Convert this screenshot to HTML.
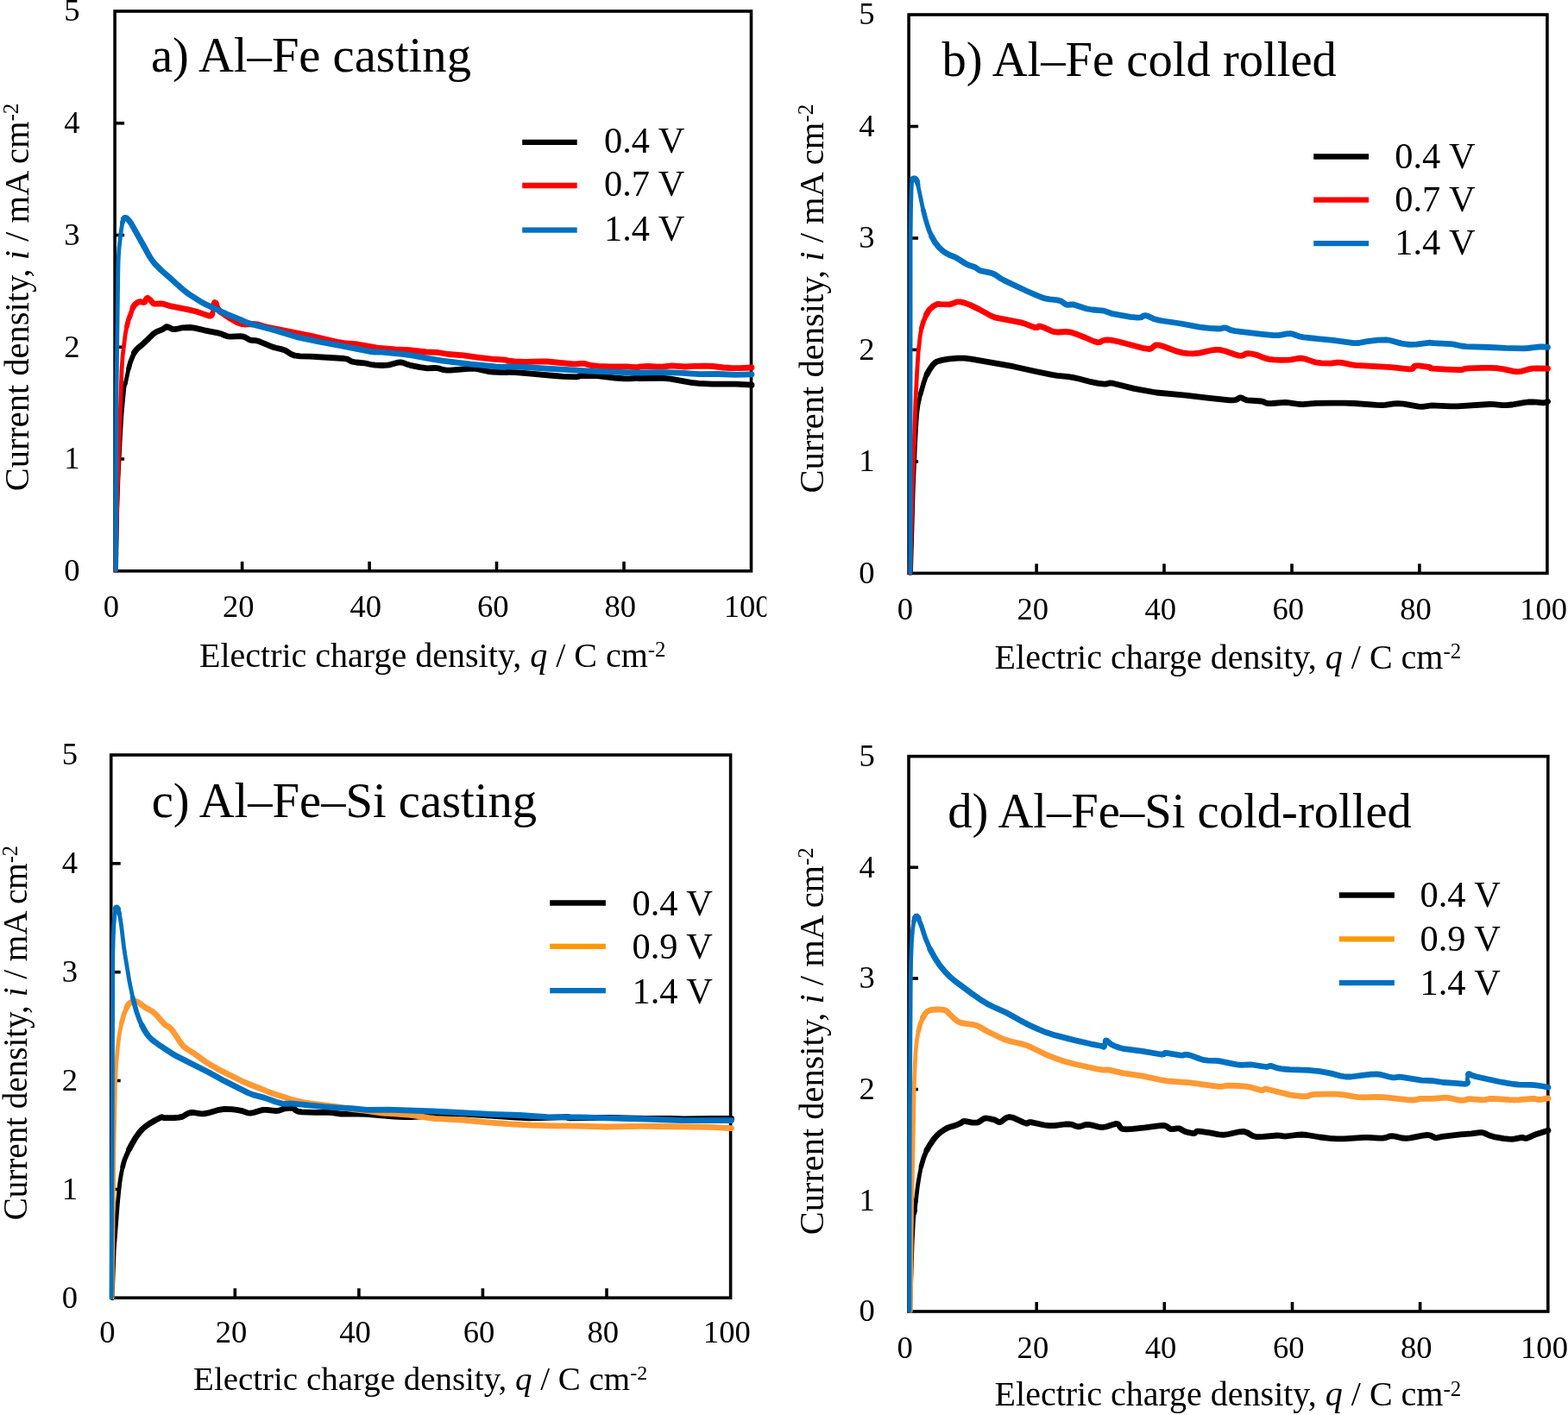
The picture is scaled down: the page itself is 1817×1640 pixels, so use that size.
<!DOCTYPE html>
<html><head><meta charset="utf-8"><title>Current density vs electric charge density</title>
<style>html,body{margin:0;padding:0;background:#fff;} svg{display:block;}</style></head>
<body>
<svg xmlns="http://www.w3.org/2000/svg" width="1817" height="1640" viewBox="0 0 1817 1640" font-family="'Liberation Serif','Times New Roman',serif">
<defs><clipPath id="clipA"><rect x="0" y="0" width="888.2" height="1640"/></clipPath></defs>
<g clip-path="url(#clipA)"><rect x="133.1" y="13.0" width="737.4" height="648.8" fill="none" stroke="#000" stroke-width="3.6"/><line x1="133.1" y1="532.0" x2="144.1" y2="532.0" stroke="#000" stroke-width="3.6"/><line x1="280.6" y1="661.8" x2="280.6" y2="650.8" stroke="#000" stroke-width="3.6"/><line x1="133.1" y1="402.3" x2="144.1" y2="402.3" stroke="#000" stroke-width="3.6"/><line x1="428.1" y1="661.8" x2="428.1" y2="650.8" stroke="#000" stroke-width="3.6"/><line x1="133.1" y1="272.5" x2="144.1" y2="272.5" stroke="#000" stroke-width="3.6"/><line x1="575.5" y1="661.8" x2="575.5" y2="650.8" stroke="#000" stroke-width="3.6"/><line x1="133.1" y1="142.8" x2="144.1" y2="142.8" stroke="#000" stroke-width="3.6"/><line x1="723.0" y1="661.8" x2="723.0" y2="650.8" stroke="#000" stroke-width="3.6"/><path d="M134.5,661.5 135.7,591.2 136.9,556.2 139.7,500.6 141.0,480.0 143.8,450.0 144.3,447.1 144.8,446.1 145.4,444.2" fill="none" stroke="#000000" stroke-width="4.8" stroke-linejoin="round" stroke-linecap="round"/><path d="M145.4,444.2 149.1,426.9" fill="none" stroke="#000000" stroke-width="4.8" stroke-linejoin="round" stroke-linecap="round"/><path d="M149.1,426.9 151.0,419.8 155.5,408.8" fill="none" stroke="#000000" stroke-width="5.7" stroke-linejoin="round" stroke-linecap="round"/><path d="M155.5,408.8 157.3,406.2 159.6,403.7 165.2,399.1 178.1,386.6 181.8,384.4 188.7,381.6 192.4,378.9 193.5,378.7 194.4,378.8 199.8,381.3 202.0,381.7 205.3,381.2 211.4,379.8 220.1,379.5 225.5,380.1 236.9,382.8 253.6,386.2 256.8,387.1 261.3,389.0 264.2,389.9 268.2,390.2 278.1,389.7 282.1,390.2 284.1,390.9 288.3,393.4 290.0,394.1 292.0,394.5 296.0,394.6 298.8,395.2 316.4,402.3 319.8,403.3 326.8,404.9 329.6,405.8 332.2,407.1 337.9,410.8 341.9,412.2 347.7,412.8 359.4,413.2 398.6,415.5 402.9,416.4 406.9,418.7 408.9,419.4 412.8,420.0 422.1,420.8 429.9,422.5 434.8,423.2 443.0,423.5 449.4,423.2 452.5,422.6 459.8,420.4 463.8,419.8 466.9,420.3 472.8,422.6 475.2,423.3 486.7,425.7 495.1,426.8 503.2,426.5 506.0,426.6 509.2,427.2 514.2,428.7 517.5,429.2 522.1,429.1 542.7,427.3 549.1,427.2 554.2,427.9 565.6,430.5 571.0,431.1 582.0,431.6 587.1,431.7 588.2,431.3 590.0,431.3 597.4,431.7 612.6,432.8 642.2,435.5 652.7,436.3 667.5,436.8 669.2,436.7 672.2,435.7 673.7,435.5 684.3,435.4 694.1,435.9 712.5,438.0 723.6,438.9 729.8,438.9 739.7,438.1 740.0,438.5 741.3,438.5 768.7,438.4 777.0,439.2 800.6,443.4 809.8,444.3 825.0,445.1 852.7,445.2 871.0,446.2" fill="none" stroke="#000000" stroke-width="6.8" stroke-linejoin="round" stroke-linecap="round"/><path d="M134.0,661.7 136.1,567.8 141.0,429.7 142.1,412.5 145.1,388.3 146.9,378.5" fill="none" stroke="#FF0000" stroke-width="4.8" stroke-linejoin="round" stroke-linecap="round"/><path d="M146.9,378.5 149.1,369.9 150.6,366.2" fill="none" stroke="#FF0000" stroke-width="5.7" stroke-linejoin="round" stroke-linecap="round"/><path d="M150.6,366.2 154.1,356.3" fill="none" stroke="#FF0000" stroke-width="5.7" stroke-linejoin="round" stroke-linecap="round"/><path d="M154.1,356.3 155.0,354.7 156.6,352.7 159.3,350.6 161.1,349.8 162.2,349.6 166.4,350.5 167.3,350.3 168.0,349.7 169.7,346.6" fill="none" stroke="#FF0000" stroke-width="6.8" stroke-linejoin="round" stroke-linecap="round"/><path d="M169.7,346.6 170.2,345.8 170.8,345.4 171.6,345.6 173.5,347.1 177.4,351.5 178.7,352.0 180.5,352.2 186.2,351.9 189.4,352.2 198.1,354.9 218.3,358.9 225.2,360.5 229.1,361.6 242.3,366.1 243.9,366.1 244.7,365.7 245.8,364.1" fill="none" stroke="#FF0000" stroke-width="6.8" stroke-linejoin="round" stroke-linecap="round"/><path d="M245.8,364.1 246.8,360.8" fill="none" stroke="#FF0000" stroke-width="5.7" stroke-linejoin="round" stroke-linecap="round"/><path d="M246.8,360.8 247.9,352.0" fill="none" stroke="#FF0000" stroke-width="4.8" stroke-linejoin="round" stroke-linecap="round"/><path d="M247.9,352.0 248.7,350.5 249.6,350.7 250.6,352.2" fill="none" stroke="#FF0000" stroke-width="6.8" stroke-linejoin="round" stroke-linecap="round"/><path d="M250.6,352.2 252.2,355.6 253.1,358.7" fill="none" stroke="#FF0000" stroke-width="5.7" stroke-linejoin="round" stroke-linecap="round"/><path d="M253.1,358.7 254.5,360.8 255.9,362.0 266.8,369.3 274.1,373.3 277.0,374.6 279.9,375.6 283.1,376.0 292.8,375.5 298.0,375.8 305.1,378.0 309.3,379.1 359.4,389.0 392.8,396.7 398.8,397.6 414.3,399.0 435.8,402.9 440.0,403.5 457.6,404.8 474.2,405.6 494.0,408.0 506.0,408.3 519.3,410.5 536.9,411.9 554.5,414.3 570.2,416.1 585.3,417.1 586.8,417.4 588.1,418.0 596.1,418.9 608.5,419.5 626.8,418.8 634.0,419.0 664.0,421.9 667.4,421.9 673.4,421.4 676.3,421.4 678.4,421.7 685.6,423.7 693.4,424.4 706.4,424.8 726.5,424.8 739.7,425.8 740.0,425.2 750.4,424.3 767.0,425.2 778.5,423.9 793.9,425.0 804.2,424.3 817.6,424.2 825.8,424.5 838.2,426.0 846.4,426.5 857.8,426.6 871.0,426.0" fill="none" stroke="#FF0000" stroke-width="6.8" stroke-linejoin="round" stroke-linecap="round"/><path d="M134.5,661.0 134.5,561.0 135.0,454.5 136.8,315.0 137.2,300.2 138.0,287.8 140.5,266.3 141.9,257.8" fill="none" stroke="#0070C0" stroke-width="4.8" stroke-linejoin="round" stroke-linecap="round"/><path d="M141.9,257.8 143.4,253.5" fill="none" stroke="#0070C0" stroke-width="5.7" stroke-linejoin="round" stroke-linecap="round"/><path d="M143.4,253.5 144.1,252.7 144.8,252.3 145.6,252.3 146.9,252.9 149.1,255.1 151.9,258.8 166.3,284.5 172.9,296.7 175.7,301.0 179.3,305.6 186.6,313.0 199.3,324.1 203.4,328.0 213.4,336.7 220.0,341.7 231.4,348.9 239.7,353.4 262.4,363.9 276.5,369.6 286.8,374.1 292.7,376.0 310.5,380.6 343.8,390.6 369.2,396.0 395.7,400.9 430.1,407.7 433.3,408.0 438.7,407.8 442.6,408.1 468.0,410.6 477.3,411.9 495.9,415.4 512.5,418.1 545.7,422.2 574.3,424.9 582.2,425.3 588.3,424.9 604.3,425.4 688.6,430.4 732.7,431.9 741.8,432.0 760.0,431.6 771.1,431.7 787.2,432.1 810.3,433.7 832.4,433.5 852.7,434.3 871.0,433.9" fill="none" stroke="#0070C0" stroke-width="6.8" stroke-linejoin="round" stroke-linecap="round"/><text x="92.5" y="673.2" font-size="36.6" text-anchor="end">0</text><text x="92.5" y="543.4" font-size="36.6" text-anchor="end">1</text><text x="92.5" y="413.7" font-size="36.6" text-anchor="end">2</text><text x="92.5" y="283.9" font-size="36.6" text-anchor="end">3</text><text x="92.5" y="154.1" font-size="36.6" text-anchor="end">4</text><text x="92.5" y="24.4" font-size="36.6" text-anchor="end">5</text><text x="128.8" y="715.3" font-size="36.6" text-anchor="middle">0</text><text x="276.3" y="715.3" font-size="36.6" text-anchor="middle">20</text><text x="423.8" y="715.3" font-size="36.6" text-anchor="middle">40</text><text x="571.2" y="715.3" font-size="36.6" text-anchor="middle">60</text><text x="718.7" y="715.3" font-size="36.6" text-anchor="middle">80</text><text x="866.2" y="715.3" font-size="36.6" text-anchor="middle">100</text><text x="175.0" y="82.9" font-size="56.6">a) Al–Fe casting</text><line x1="605.2" y1="164.8" x2="668.7" y2="164.8" stroke="#000000" stroke-width="6.3"/><text x="700.0" y="177.2" font-size="42.4">0.4 V</text><line x1="605.2" y1="215.0" x2="668.7" y2="215.0" stroke="#FF0000" stroke-width="6.3"/><text x="700.0" y="227.4" font-size="42.4">0.7 V</text><line x1="605.2" y1="266.6" x2="668.7" y2="266.6" stroke="#0070C0" stroke-width="6.3"/><text x="700.0" y="279.0" font-size="42.4">1.4 V</text><text x="231.0" y="772.7" font-size="40.0">Electric charge density, <tspan font-style="italic">q</tspan> / C cm<tspan font-size="24.8" dy="-11.8">-2</tspan></text><text transform="translate(33.2,569.3) rotate(-90)" x="0" y="0" font-size="40.45">Current density, <tspan font-style="italic">i</tspan> / mA cm<tspan font-size="25.1" dy="-11.9">-2</tspan></text></g>
<g><rect x="1053.1" y="17.0" width="739.8" height="647.4" fill="none" stroke="#000" stroke-width="3.6"/><line x1="1053.1" y1="534.9" x2="1064.1" y2="534.9" stroke="#000" stroke-width="3.6"/><line x1="1201.1" y1="664.4" x2="1201.1" y2="653.4" stroke="#000" stroke-width="3.6"/><line x1="1053.1" y1="405.4" x2="1064.1" y2="405.4" stroke="#000" stroke-width="3.6"/><line x1="1349.0" y1="664.4" x2="1349.0" y2="653.4" stroke="#000" stroke-width="3.6"/><line x1="1053.1" y1="276.0" x2="1064.1" y2="276.0" stroke="#000" stroke-width="3.6"/><line x1="1497.0" y1="664.4" x2="1497.0" y2="653.4" stroke="#000" stroke-width="3.6"/><line x1="1053.1" y1="146.5" x2="1064.1" y2="146.5" stroke="#000" stroke-width="3.6"/><line x1="1644.9" y1="664.4" x2="1644.9" y2="653.4" stroke="#000" stroke-width="3.6"/><path d="M1055.5,664.0 1058.3,565.0 1060.5,514.8 1061.8,491.6 1062.9,477.6 1063.9,470.1 1065.6,461.8" fill="none" stroke="#000000" stroke-width="4.8" stroke-linejoin="round" stroke-linecap="round"/><path d="M1065.6,461.8 1066.7,456.8" fill="none" stroke="#000000" stroke-width="4.8" stroke-linejoin="round" stroke-linecap="round"/><path d="M1066.7,456.8 1070.3,443.9 1072.4,437.8 1074.0,434.0" fill="none" stroke="#000000" stroke-width="5.7" stroke-linejoin="round" stroke-linecap="round"/><path d="M1074.0,434.0 1077.0,428.6 1080.6,423.4 1083.4,420.5 1085.9,419.0 1091.7,417.4 1098.6,416.2 1110.0,415.2 1117.5,415.1 1125.4,416.1 1174.1,424.7 1200.1,430.5 1219.1,434.4 1225.1,435.3 1238.1,436.7 1244.1,437.6 1250.3,439.0 1264.4,442.7 1272.9,444.4 1280.0,445.2 1282.2,445.0 1285.6,443.9 1289.5,444.2 1314.1,450.4 1339.8,455.0 1373.6,458.1 1399.1,461.2 1424.7,463.8 1428.6,463.9 1431.8,463.5 1433.9,462.6 1435.9,461.2 1437.4,460.8 1439.2,461.2 1442.6,463.1 1445.1,463.9 1461.6,465.0 1464.0,465.6 1467.3,467.2 1470.0,467.6 1474.4,467.5 1485.5,466.6 1489.8,466.5 1494.1,466.8 1505.5,468.5 1509.6,468.7 1525.0,467.4 1541.8,467.1 1558.1,467.1 1568.9,467.5 1595.3,469.4 1601.2,469.6 1605.3,469.4 1615.2,467.8 1619.6,467.6 1626.7,468.2 1643.6,471.1 1648.7,471.4 1658.5,470.0 1664.1,470.1 1680.7,470.8 1688.9,470.8 1726.0,468.5 1731.1,468.6 1740.7,469.6 1745.6,469.7 1752.5,469.0 1766.0,466.6 1770.7,466.0 1776.5,465.8 1788.0,466.8 1791.3,466.3 1793.5,465.4" fill="none" stroke="#000000" stroke-width="6.8" stroke-linejoin="round" stroke-linecap="round"/><path d="M1054.8,664.6 1057.2,569.7 1061.0,464.2 1062.7,430.0 1064.1,408.5 1066.1,390.4 1067.8,380.4" fill="none" stroke="#FF0000" stroke-width="4.8" stroke-linejoin="round" stroke-linecap="round"/><path d="M1067.8,380.4 1070.1,372.6 1073.4,364.8" fill="none" stroke="#FF0000" stroke-width="5.7" stroke-linejoin="round" stroke-linecap="round"/><path d="M1073.4,364.8 1076.1,360.1 1078.6,357.3 1082.1,354.5 1086.6,352.3 1090.0,352.7 1100.1,352.8 1103.1,352.2 1108.8,349.9 1112.6,349.8 1117.4,350.9 1124.1,353.4 1134.9,358.6 1148.0,365.9 1153.6,368.2 1183.6,373.9 1188.1,375.3 1197.1,378.8 1200.1,379.7 1201.7,379.7 1204.0,378.0 1205.6,378.1 1208.7,379.2 1218.0,383.4 1222.1,384.7 1226.2,385.0 1235.5,384.5 1237.6,384.6 1240.5,385.1 1248.3,387.6 1257.1,391.0 1267.3,395.5 1271.6,396.8 1274.2,396.7 1277.9,394.8 1280.0,394.2 1283.3,394.0 1287.1,394.2 1296.3,396.0 1325.6,403.7 1330.9,404.5 1333.0,404.3 1334.1,403.9 1338.1,400.6 1339.1,400.1 1340.2,399.8 1342.3,399.9 1347.7,401.3 1362.6,406.9 1370.1,408.9 1375.8,409.7 1382.4,409.8 1390.1,409.1 1404.7,405.8 1408.9,405.3 1412.1,405.3 1415.0,405.7 1419.2,406.7 1431.5,411.0 1435.6,412.1 1437.9,412.3 1439.2,412.2 1441.1,411.5 1444.1,409.8 1446.0,409.7 1448.8,409.8 1452.8,410.5 1457.0,411.6 1464.3,414.6 1467.6,415.7 1470.8,416.3 1475.6,416.9 1484.1,417.3 1493.2,417.2 1496.5,416.9 1503.5,415.5 1507.5,415.2 1509.5,415.4 1512.4,416.0 1524.0,419.9 1531.4,420.9 1542.7,421.2 1549.3,420.2 1552.6,420.1 1556.2,420.6 1565.6,422.6 1570.9,423.3 1612.1,425.7 1632.9,427.8 1635.1,427.8 1636.8,427.4 1637.7,426.7 1638.6,425.0" fill="none" stroke="#FF0000" stroke-width="6.8" stroke-linejoin="round" stroke-linecap="round"/><path d="M1638.6,425.0 1639.2,424.3 1640.6,423.9 1644.3,423.9 1657.1,425.6 1658.0,426.1 1657.4,426.6 1660.0,427.1 1676.0,428.1 1690.0,428.7 1694.7,428.5 1696.8,427.5 1697.9,427.3 1701.9,426.9 1718.0,426.3 1728.5,426.3 1733.9,426.7 1742.6,427.9 1753.9,430.3 1758.1,430.8 1760.1,430.7 1763.2,430.3 1771.4,427.9 1775.6,427.1 1782.5,426.8 1793.5,427.1" fill="none" stroke="#FF0000" stroke-width="6.8" stroke-linejoin="round" stroke-linecap="round"/><path d="M1055.0,664.0 1055.1,273.4 1055.5,243.8 1056.1,218.1 1056.5,212.2 1057.0,209.6 1057.7,207.5" fill="none" stroke="#0070C0" stroke-width="4.8" stroke-linejoin="round" stroke-linecap="round"/><path d="M1057.7,207.5 1058.6,206.8 1060.2,206.9 1061.7,208.3 1062.4,209.6" fill="none" stroke="#0070C0" stroke-width="6.8" stroke-linejoin="round" stroke-linecap="round"/><path d="M1062.4,209.6 1063.6,213.8" fill="none" stroke="#0070C0" stroke-width="5.7" stroke-linejoin="round" stroke-linecap="round"/><path d="M1063.6,213.8 1069.8,243.4" fill="none" stroke="#0070C0" stroke-width="4.8" stroke-linejoin="round" stroke-linecap="round"/><path d="M1069.8,243.4 1072.3,253.3 1074.7,261.3 1077.1,268.2 1079.7,274.1" fill="none" stroke="#0070C0" stroke-width="5.7" stroke-linejoin="round" stroke-linecap="round"/><path d="M1079.7,274.1 1083.3,280.7 1088.0,286.6 1092.5,290.9 1097.0,293.8 1100.8,295.8 1106.1,297.7 1108.0,298.7 1118.9,305.5 1121.7,307.0 1130.0,309.8 1134.9,313.2 1137.8,314.2 1147.5,316.1 1151.5,317.4 1154.2,319.0 1159.4,322.6 1163.9,325.1 1189.1,337.0 1201.4,342.4 1207.2,344.7 1212.1,346.2 1216.5,346.9 1224.0,347.6 1227.6,348.3 1229.9,349.2 1234.8,352.6 1236.4,353.3 1238.4,353.4 1241.3,352.8 1244.1,353.0 1259.6,358.0 1266.2,359.0 1278.9,360.1 1287.9,363.3 1297.4,365.2 1310.1,367.3 1318.5,368.2 1321.6,367.9 1322.7,367.6 1325.4,365.8 1327.3,365.6 1329.6,366.2 1336.6,369.4 1341.3,370.8 1347.8,372.0 1368.1,375.0 1390.1,379.2 1400.9,380.3 1412.1,381.0 1415.3,380.8 1417.9,380.0 1419.8,379.9 1421.4,380.3 1425.7,382.4 1430.9,383.6 1462.6,387.4 1475.4,388.7 1481.9,388.6 1491.2,386.9 1495.3,386.7 1498.2,387.2 1506.0,390.0 1510.2,390.9 1544.8,394.4 1568.5,397.6 1571.3,397.7 1574.5,397.5 1584.4,395.6 1597.0,394.2 1604.5,393.8 1607.6,394.0 1610.7,394.5 1624.1,398.1 1630.2,399.0 1634.1,399.4 1641.4,399.2 1657.1,397.2 1658.4,397.3 1660.0,397.7 1680.6,398.6 1684.7,399.2 1693.3,401.0 1698.8,401.6 1726.0,402.5 1744.7,403.4 1765.4,403.8 1770.7,403.5 1783.8,402.0 1787.9,402.0 1793.5,402.3" fill="none" stroke="#0070C0" stroke-width="6.8" stroke-linejoin="round" stroke-linecap="round"/><text x="1013.5" y="675.8" font-size="36.6" text-anchor="end">0</text><text x="1013.5" y="546.3" font-size="36.6" text-anchor="end">1</text><text x="1013.5" y="416.8" font-size="36.6" text-anchor="end">2</text><text x="1013.5" y="287.3" font-size="36.6" text-anchor="end">3</text><text x="1013.5" y="157.9" font-size="36.6" text-anchor="end">4</text><text x="1013.5" y="28.4" font-size="36.6" text-anchor="end">5</text><text x="1048.8" y="718.1" font-size="36.6" text-anchor="middle">0</text><text x="1196.8" y="718.1" font-size="36.6" text-anchor="middle">20</text><text x="1344.7" y="718.1" font-size="36.6" text-anchor="middle">40</text><text x="1492.7" y="718.1" font-size="36.6" text-anchor="middle">60</text><text x="1640.6" y="718.1" font-size="36.6" text-anchor="middle">80</text><text x="1788.6" y="718.1" font-size="36.6" text-anchor="middle">100</text><text x="1091.5" y="88.1" font-size="56.6">b) Al–Fe cold rolled</text><line x1="1522.2" y1="181.5" x2="1586.1" y2="181.5" stroke="#000000" stroke-width="6.3"/><text x="1616.2" y="194.5" font-size="42.4">0.4 V</text><line x1="1522.2" y1="231.6" x2="1586.1" y2="231.6" stroke="#FF0000" stroke-width="6.3"/><text x="1616.2" y="244.6" font-size="42.4">0.7 V</text><line x1="1522.2" y1="282.2" x2="1586.1" y2="282.2" stroke="#0070C0" stroke-width="6.3"/><text x="1616.2" y="295.2" font-size="42.4">1.4 V</text><text x="1152.6" y="775.0" font-size="40.0">Electric charge density, <tspan font-style="italic">q</tspan> / C cm<tspan font-size="24.8" dy="-11.8">-2</tspan></text><text transform="translate(954.0,571.5) rotate(-90)" x="0" y="0" font-size="40.55">Current density, <tspan font-style="italic">i</tspan> / mA cm<tspan font-size="25.1" dy="-12.0">-2</tspan></text></g>
<g><rect x="128.7" y="875.0" width="717.9" height="629.2" fill="none" stroke="#000" stroke-width="3.6"/><line x1="128.7" y1="1378.4" x2="139.7" y2="1378.4" stroke="#000" stroke-width="3.6"/><line x1="272.3" y1="1504.2" x2="272.3" y2="1493.2" stroke="#000" stroke-width="3.6"/><line x1="128.7" y1="1252.5" x2="139.7" y2="1252.5" stroke="#000" stroke-width="3.6"/><line x1="415.9" y1="1504.2" x2="415.9" y2="1493.2" stroke="#000" stroke-width="3.6"/><line x1="128.7" y1="1126.7" x2="139.7" y2="1126.7" stroke="#000" stroke-width="3.6"/><line x1="559.4" y1="1504.2" x2="559.4" y2="1493.2" stroke="#000" stroke-width="3.6"/><line x1="128.7" y1="1000.8" x2="139.7" y2="1000.8" stroke="#000" stroke-width="3.6"/><line x1="703.0" y1="1504.2" x2="703.0" y2="1493.2" stroke="#000" stroke-width="3.6"/><path d="M130.1,1504.8 132.2,1448.5 136.4,1394.4 137.7,1381.2 138.9,1370.5 140.5,1360.4 142.2,1352.2" fill="none" stroke="#000000" stroke-width="4.8" stroke-linejoin="round" stroke-linecap="round"/><path d="M142.2,1352.2 143.3,1347.7 144.7,1343.3 149.6,1332.1" fill="none" stroke="#000000" stroke-width="5.7" stroke-linejoin="round" stroke-linecap="round"/><path d="M149.6,1332.1 153.4,1324.9 157.4,1318.2 161.2,1313.0 164.6,1309.0 168.4,1305.7 172.5,1302.8 180.1,1298.3 186.6,1295.0 187.2,1294.7 188.1,1294.8 190.0,1295.6 193.1,1295.6 202.1,1295.5 207.5,1295.1 211.6,1294.1 217.8,1290.4 220.8,1289.4 224.5,1289.5 232.8,1290.9 236.2,1290.9 241.2,1289.9 253.8,1286.3 260.3,1285.3 268.1,1285.6 274.4,1286.3 279.6,1287.3 287.0,1289.9 290.2,1290.2 294.0,1289.5 301.4,1287.2 304.6,1286.4 308.8,1286.3 318.3,1287.4 321.0,1287.5 323.4,1287.1 330.0,1284.8 334.3,1284.3 337.5,1284.2 340.3,1284.8 343.1,1287.0 345.0,1288.1 349.8,1288.9 365.0,1289.3 380.7,1289.3 385.0,1289.6 394.9,1291.1 414.8,1291.2 424.5,1291.4 456.8,1294.0 468.7,1294.6 476.3,1294.6 485.0,1294.1 493.3,1293.5 513.9,1291.3 526.8,1290.8 542.4,1291.3 598.1,1295.1 613.1,1295.8 626.2,1295.7 657.1,1294.7 659.6,1295.0 657.5,1295.5 660.6,1295.9 705.0,1295.3 748.1,1296.4 776.9,1296.4 792.1,1297.0 825.1,1296.4 847.5,1296.4" fill="none" stroke="#000000" stroke-width="6.8" stroke-linejoin="round" stroke-linecap="round"/><path d="M130.1,1504.0 131.9,1333.2 133.5,1255.4 134.6,1234.4 136.5,1212.9 138.3,1198.8 140.8,1185.7" fill="none" stroke="#FF9933" stroke-width="4.8" stroke-linejoin="round" stroke-linecap="round"/><path d="M140.8,1185.7 143.5,1176.0 147.0,1167.2" fill="none" stroke="#FF9933" stroke-width="5.7" stroke-linejoin="round" stroke-linecap="round"/><path d="M147.0,1167.2 149.0,1163.8 151.1,1161.9 154.1,1160.7 157.3,1160.6 160.0,1161.5 167.6,1167.2 176.6,1172.2 180.5,1175.6 190.0,1186.5 192.0,1188.1 196.1,1190.5 198.3,1192.6 200.7,1195.7 210.2,1209.8 212.3,1212.3 213.9,1213.8 216.4,1215.6 224.7,1220.8 237.0,1229.8 245.1,1234.8 252.5,1239.1 282.4,1254.0 310.3,1265.2 317.3,1267.7 330.0,1271.7 336.2,1274.0 351.1,1277.5 359.3,1278.9 389.6,1282.6 406.6,1285.3 425.7,1287.6 443.3,1290.2 459.8,1291.0 473.6,1292.2 481.8,1293.1 497.3,1295.7 503.9,1296.5 536.0,1298.0 568.1,1301.2 592.1,1302.9 616.0,1304.2 639.1,1304.9 670.0,1305.2 702.9,1306.0 743.0,1305.4 762.5,1305.5 822.5,1306.4 847.5,1307.6" fill="none" stroke="#FF9933" stroke-width="6.8" stroke-linejoin="round" stroke-linecap="round"/><path d="M129.1,1504.0 129.5,1400.0 130.1,1331.8 130.8,1105.4 131.3,1084.9 131.9,1071.8 133.0,1059.3 134.1,1053.0" fill="none" stroke="#0070C0" stroke-width="4.8" stroke-linejoin="round" stroke-linecap="round"/><path d="M134.1,1053.0 134.5,1052.2 135.0,1051.9 135.5,1052.0 136.3,1052.9" fill="none" stroke="#0070C0" stroke-width="6.8" stroke-linejoin="round" stroke-linecap="round"/><path d="M136.3,1052.9 137.1,1054.9 138.3,1059.3" fill="none" stroke="#0070C0" stroke-width="5.7" stroke-linejoin="round" stroke-linecap="round"/><path d="M138.3,1059.3 139.5,1065.4 140.8,1074.5 143.4,1096.4 144.7,1105.6 150.1,1138.3 153.9,1156.4" fill="none" stroke="#0070C0" stroke-width="4.8" stroke-linejoin="round" stroke-linecap="round"/><path d="M153.9,1156.4 156.1,1165.3 158.8,1174.4 161.6,1182.1 164.4,1188.3" fill="none" stroke="#0070C0" stroke-width="5.7" stroke-linejoin="round" stroke-linecap="round"/><path d="M164.4,1188.3 166.9,1193.1 169.6,1197.4 172.4,1201.2 175.3,1204.3 178.7,1207.0 185.9,1212.2 199.8,1221.3 204.2,1223.9 242.1,1243.0 260.2,1252.9 287.5,1266.6 293.3,1268.9 306.6,1272.4 320.2,1277.3 327.3,1279.1 331.1,1279.4 336.0,1279.0 339.2,1279.1 374.9,1282.7 390.4,1283.8 408.1,1284.7 424.7,1286.3 449.5,1286.1 502.6,1288.0 569.1,1291.4 602.1,1292.5 634.1,1294.7 673.0,1294.8 704.0,1295.9 749.1,1297.0 791.0,1298.6 847.5,1298.6" fill="none" stroke="#0070C0" stroke-width="6.8" stroke-linejoin="round" stroke-linecap="round"/><text x="90.0" y="1515.6" font-size="36.6" text-anchor="end">0</text><text x="90.0" y="1389.7" font-size="36.6" text-anchor="end">1</text><text x="90.0" y="1263.9" font-size="36.6" text-anchor="end">2</text><text x="90.0" y="1138.1" font-size="36.6" text-anchor="end">3</text><text x="90.0" y="1012.2" font-size="36.6" text-anchor="end">4</text><text x="90.0" y="886.4" font-size="36.6" text-anchor="end">5</text><text x="124.4" y="1556.3" font-size="36.6" text-anchor="middle">0</text><text x="268.0" y="1556.3" font-size="36.6" text-anchor="middle">20</text><text x="411.6" y="1556.3" font-size="36.6" text-anchor="middle">40</text><text x="555.1" y="1556.3" font-size="36.6" text-anchor="middle">60</text><text x="698.7" y="1556.3" font-size="36.6" text-anchor="middle">80</text><text x="842.3" y="1556.3" font-size="36.6" text-anchor="middle">100</text><text x="175.7" y="946.8" font-size="56.6">c) Al–Fe–Si casting</text><line x1="637.2" y1="1046.5" x2="701.9" y2="1046.5" stroke="#000000" stroke-width="6.3"/><text x="732.5" y="1060.8" font-size="42.4">0.4 V</text><line x1="637.2" y1="1096.9" x2="701.9" y2="1096.9" stroke="#FF9900" stroke-width="6.3"/><text x="732.5" y="1111.2" font-size="42.4">0.9 V</text><line x1="637.2" y1="1148.2" x2="701.9" y2="1148.2" stroke="#0070C0" stroke-width="6.3"/><text x="732.5" y="1162.5" font-size="42.4">1.4 V</text><text x="224.1" y="1610.8" font-size="38.95">Electric charge density, <tspan font-style="italic">q</tspan> / C cm<tspan font-size="24.1" dy="-11.5">-2</tspan></text><text transform="translate(31.1,1414.2) rotate(-90)" x="0" y="0" font-size="39.05">Current density, <tspan font-style="italic">i</tspan> / mA cm<tspan font-size="24.2" dy="-11.5">-2</tspan></text></g>
<g><rect x="1053.0" y="876.6" width="740.8" height="643.4" fill="none" stroke="#000" stroke-width="3.6"/><line x1="1053.0" y1="1391.3" x2="1064.0" y2="1391.3" stroke="#000" stroke-width="3.6"/><line x1="1201.2" y1="1520.0" x2="1201.2" y2="1509.0" stroke="#000" stroke-width="3.6"/><line x1="1053.0" y1="1262.6" x2="1064.0" y2="1262.6" stroke="#000" stroke-width="3.6"/><line x1="1349.3" y1="1520.0" x2="1349.3" y2="1509.0" stroke="#000" stroke-width="3.6"/><line x1="1053.0" y1="1134.0" x2="1064.0" y2="1134.0" stroke="#000" stroke-width="3.6"/><line x1="1497.5" y1="1520.0" x2="1497.5" y2="1509.0" stroke="#000" stroke-width="3.6"/><line x1="1053.0" y1="1005.3" x2="1064.0" y2="1005.3" stroke="#000" stroke-width="3.6"/><line x1="1645.6" y1="1520.0" x2="1645.6" y2="1509.0" stroke="#000" stroke-width="3.6"/><path d="M1054.6,1519.6 1057.1,1440.3 1058.4,1415.6 1059.0,1408.5 1059.5,1405.6" fill="none" stroke="#000000" stroke-width="4.8" stroke-linejoin="round" stroke-linecap="round"/><path d="M1059.5,1405.6 1060.1,1403.0" fill="none" stroke="#000000" stroke-width="5.7" stroke-linejoin="round" stroke-linecap="round"/><path d="M1060.1,1403.0 1063.4,1374.5 1065.4,1362.4 1067.5,1351.8" fill="none" stroke="#000000" stroke-width="4.8" stroke-linejoin="round" stroke-linecap="round"/><path d="M1067.5,1351.8 1070.4,1341.6 1073.9,1333.1" fill="none" stroke="#000000" stroke-width="5.7" stroke-linejoin="round" stroke-linecap="round"/><path d="M1073.9,1333.1 1076.9,1327.9 1082.6,1319.5 1086.0,1315.7 1089.3,1312.8 1093.7,1309.7 1097.4,1307.5 1100.4,1306.3 1105.6,1304.9 1111.0,1302.8 1113.9,1301.4 1116.1,1299.6 1117.3,1299.4 1119.1,1299.6 1126.8,1301.2 1131.1,1301.2 1133.1,1300.8 1135.0,1300.1 1138.5,1297.5 1140.4,1296.4 1141.5,1296.1 1143.3,1296.0 1146.5,1296.5 1152.4,1297.9 1153.5,1298.3 1156.9,1300.4 1159.0,1300.5 1160.5,1299.9 1164.6,1296.5 1166.6,1295.3 1168.8,1294.7 1170.0,1294.6 1172.6,1295.1 1175.6,1296.1 1186.0,1300.9 1189.1,1302.0 1190.8,1302.2 1192.7,1300.7 1194.6,1300.6 1210.2,1304.0 1215.6,1304.7 1221.8,1304.7 1234.3,1303.0 1238.6,1302.8 1242.4,1303.4 1246.9,1305.3 1249.6,1305.9 1252.5,1305.4 1257.2,1303.7 1260.6,1303.3 1264.4,1303.9 1273.1,1306.1 1277.1,1306.6 1281.6,1306.0 1289.3,1303.5 1293.5,1302.4 1295.4,1302.8 1296.1,1303.3 1298.3,1306.7 1299.2,1307.6 1300.4,1308.3 1302.0,1308.7 1305.0,1308.9 1313.0,1308.4 1327.0,1306.9 1342.2,1304.8 1348.2,1304.5 1349.9,1304.7 1352.3,1305.6 1355.3,1308.0 1357.0,1308.7 1359.2,1308.7 1363.8,1307.8 1365.9,1307.8 1367.9,1308.5 1371.5,1310.7 1373.6,1311.6 1377.7,1312.7 1381.8,1313.5 1383.5,1313.6 1384.6,1313.3 1386.5,1311.4 1387.9,1311.1 1389.4,1311.1 1402.0,1312.8 1412.1,1314.9 1417.6,1315.3 1423.7,1314.5 1435.9,1311.8 1440.4,1311.5 1442.2,1311.7 1445.9,1313.0 1450.4,1315.8 1452.4,1316.7 1454.7,1317.3 1457.8,1317.6 1464.0,1317.3 1480.0,1316.0 1483.0,1316.1 1487.3,1316.9 1489.8,1317.0 1502.8,1315.3 1508.5,1315.0 1514.3,1315.5 1529.5,1318.0 1541.2,1319.3 1549.3,1319.8 1557.4,1319.8 1580.1,1318.3 1585.7,1318.4 1598.0,1319.2 1602.1,1319.2 1605.7,1318.6 1610.9,1316.8 1613.1,1316.6 1616.7,1317.1 1624.8,1319.0 1629.6,1319.4 1634.4,1318.9 1648.6,1316.1 1653.8,1315.5 1655.4,1315.6 1657.9,1316.1 1662.9,1318.6 1665.0,1318.8 1671.0,1317.4 1692.1,1314.8 1705.4,1313.9 1712.6,1312.8 1715.7,1312.6 1717.8,1312.7 1719.6,1313.1 1726.8,1316.3 1731.1,1317.6 1742.8,1319.6 1748.1,1320.1 1752.1,1320.3 1755.8,1319.9 1763.2,1318.4 1764.7,1318.5 1767.6,1319.4 1769.0,1319.3 1771.5,1318.4 1779.7,1314.7 1794.0,1310.2" fill="none" stroke="#000000" stroke-width="6.8" stroke-linejoin="round" stroke-linecap="round"/><path d="M1055.3,1519.6 1056.5,1398.6 1058.0,1331.0 1059.1,1263.3 1060.3,1233.7 1061.3,1216.3 1062.5,1205.1 1064.3,1195.1" fill="none" stroke="#FF9933" stroke-width="4.8" stroke-linejoin="round" stroke-linecap="round"/><path d="M1064.3,1195.1 1066.7,1186.1 1069.4,1179.5" fill="none" stroke="#FF9933" stroke-width="5.7" stroke-linejoin="round" stroke-linecap="round"/><path d="M1069.4,1179.5 1071.3,1176.1 1073.2,1173.5 1074.7,1172.2 1076.7,1171.2 1079.6,1170.4 1085.0,1170.0 1090.8,1170.1 1094.4,1170.6 1095.7,1171.0 1097.4,1172.1 1100.0,1175.1 1106.5,1181.3 1109.1,1183.3 1112.0,1184.9 1116.8,1186.1 1127.7,1187.5 1131.7,1188.6 1135.2,1190.2 1143.9,1195.3 1155.6,1201.0 1163.3,1204.5 1170.1,1206.8 1184.1,1209.9 1189.1,1211.4 1194.6,1213.7 1211.1,1221.8 1222.6,1226.4 1232.1,1229.8 1245.1,1233.3 1271.1,1239.0 1278.7,1240.2 1283.1,1239.9 1285.5,1240.1 1302.0,1243.9 1324.0,1247.2 1344.5,1251.5 1352.5,1252.8 1379.1,1254.9 1412.1,1259.3 1416.4,1259.3 1420.7,1258.3 1423.1,1258.2 1434.9,1258.5 1443.3,1259.1 1449.6,1260.2 1460.9,1263.6 1463.3,1263.7 1465.7,1262.2 1467.8,1262.2 1494.4,1268.9 1500.8,1269.9 1508.4,1270.6 1515.2,1270.5 1519.6,1268.8 1522.8,1268.4 1535.2,1268.1 1548.7,1268.2 1557.0,1268.8 1568.4,1270.9 1573.5,1271.6 1579.3,1271.9 1594.4,1271.5 1602.1,1271.7 1610.2,1272.4 1630.4,1274.7 1636.9,1275.0 1640.6,1274.7 1644.2,1273.7 1646.1,1273.4 1660.0,1273.3 1674.4,1272.1 1679.7,1272.6 1690.3,1275.0 1694.2,1275.4 1696.3,1275.2 1700.7,1273.9 1702.9,1273.7 1717.8,1274.9 1720.8,1274.6 1726.3,1273.5 1731.0,1273.3 1748.7,1274.7 1754.9,1274.9 1760.6,1274.7 1775.6,1273.3 1778.5,1273.5 1781.9,1274.3 1783.8,1274.5 1787.0,1274.2 1794.0,1272.9" fill="none" stroke="#FF9933" stroke-width="6.8" stroke-linejoin="round" stroke-linecap="round"/><path d="M1053.9,1519.6 1054.1,1327.0 1055.3,1132.4 1055.7,1109.8 1056.6,1089.0 1057.6,1076.8 1059.1,1067.4" fill="none" stroke="#0070C0" stroke-width="4.8" stroke-linejoin="round" stroke-linecap="round"/><path d="M1059.1,1067.4 1060.4,1063.5" fill="none" stroke="#0070C0" stroke-width="5.7" stroke-linejoin="round" stroke-linecap="round"/><path d="M1060.4,1063.5 1061.4,1062.2 1062.4,1062.0 1063.2,1062.7 1064.1,1064.1" fill="none" stroke="#0070C0" stroke-width="6.8" stroke-linejoin="round" stroke-linecap="round"/><path d="M1064.1,1064.1 1067.6,1072.7 1072.4,1087.6 1077.9,1100.3" fill="none" stroke="#0070C0" stroke-width="5.7" stroke-linejoin="round" stroke-linecap="round"/><path d="M1077.9,1100.3 1083.3,1110.2 1088.3,1117.9 1094.1,1125.1 1101.0,1132.3 1106.2,1136.8 1123.4,1149.6 1136.8,1159.0 1144.0,1163.4 1150.1,1166.5 1167.1,1174.2 1185.6,1184.5 1193.7,1188.6 1203.8,1193.2 1212.1,1196.6 1222.7,1199.9 1245.1,1205.6 1263.3,1209.8 1277.1,1212.5 1279.2,1213.3 1279.5,1212.8" fill="none" stroke="#0070C0" stroke-width="6.8" stroke-linejoin="round" stroke-linecap="round"/><path d="M1279.5,1212.8 1281.2,1206.6" fill="none" stroke="#0070C0" stroke-width="5.7" stroke-linejoin="round" stroke-linecap="round"/><path d="M1281.2,1206.6 1281.5,1206.0 1282.6,1206.1 1287.3,1210.3 1291.1,1212.1 1297.0,1214.2 1302.8,1215.7 1324.0,1218.3 1345.3,1222.0 1348.0,1222.0 1348.9,1221.6 1350.0,1220.4 1351.5,1220.3 1368.1,1223.2 1370.6,1223.1 1373.2,1222.4 1375.4,1222.3 1379.3,1223.1 1390.6,1227.3 1395.6,1228.7 1399.8,1229.2 1407.6,1229.3 1412.1,1229.6 1429.4,1233.2 1434.1,1234.0 1438.6,1234.3 1446.6,1233.9 1450.6,1234.0 1467.1,1236.5 1468.9,1236.4 1471.6,1235.4 1472.6,1235.3 1480.0,1237.9 1486.7,1239.0 1494.4,1239.6 1516.6,1240.4 1529.1,1241.7 1542.6,1244.1 1554.4,1247.2 1559.3,1248.0 1565.5,1248.0 1578.1,1246.3 1588.6,1245.2 1595.6,1244.9 1600.9,1245.7 1609.4,1248.0 1613.1,1248.8 1616.2,1248.9 1621.5,1248.2 1624.1,1248.3 1647.4,1252.2 1660.0,1252.7 1672.4,1254.5 1685.8,1255.4 1695.0,1256.2 1697.9,1256.3 1699.3,1256.0 1700.3,1255.4 1700.7,1254.5" fill="none" stroke="#0070C0" stroke-width="6.8" stroke-linejoin="round" stroke-linecap="round"/><path d="M1700.7,1254.5 1700.4,1250.0 1701.4,1245.3" fill="none" stroke="#0070C0" stroke-width="4.8" stroke-linejoin="round" stroke-linecap="round"/><path d="M1701.4,1245.3 1701.7,1244.6 1702.6,1244.6 1704.0,1245.6 1705.4,1246.2 1710.2,1247.7 1736.4,1253.5 1746.7,1255.4 1753.9,1256.5 1760.1,1257.1 1773.7,1257.3 1778.0,1257.6 1788.0,1259.0 1794.0,1260.3" fill="none" stroke="#0070C0" stroke-width="6.8" stroke-linejoin="round" stroke-linecap="round"/><text x="1013.8" y="1531.4" font-size="36.6" text-anchor="end">0</text><text x="1013.8" y="1402.7" font-size="36.6" text-anchor="end">1</text><text x="1013.8" y="1274.0" font-size="36.6" text-anchor="end">2</text><text x="1013.8" y="1145.3" font-size="36.6" text-anchor="end">3</text><text x="1013.8" y="1016.7" font-size="36.6" text-anchor="end">4</text><text x="1013.8" y="888.0" font-size="36.6" text-anchor="end">5</text><text x="1048.7" y="1573.9" font-size="36.6" text-anchor="middle">0</text><text x="1196.9" y="1573.9" font-size="36.6" text-anchor="middle">20</text><text x="1345.0" y="1573.9" font-size="36.6" text-anchor="middle">40</text><text x="1493.2" y="1573.9" font-size="36.6" text-anchor="middle">60</text><text x="1641.3" y="1573.9" font-size="36.6" text-anchor="middle">80</text><text x="1789.5" y="1573.9" font-size="36.6" text-anchor="middle">100</text><text x="1098.3" y="959.0" font-size="56.6">d) Al–Fe–Si cold-rolled</text><line x1="1551.8" y1="1037.5" x2="1615.9" y2="1037.5" stroke="#000000" stroke-width="6.3"/><text x="1645.5" y="1051.3" font-size="42.4">0.4 V</text><line x1="1551.8" y1="1088.3" x2="1615.9" y2="1088.3" stroke="#FF9900" stroke-width="6.3"/><text x="1645.5" y="1102.1" font-size="42.4">0.9 V</text><line x1="1551.8" y1="1139.2" x2="1615.9" y2="1139.2" stroke="#0070C0" stroke-width="6.3"/><text x="1645.5" y="1153.0" font-size="42.4">1.4 V</text><text x="1152.6" y="1629.3" font-size="40.0">Electric charge density, <tspan font-style="italic">q</tspan> / C cm<tspan font-size="24.8" dy="-11.8">-2</tspan></text><text transform="translate(954.0,1431.2) rotate(-90)" x="0" y="0" font-size="40.4">Current density, <tspan font-style="italic">i</tspan> / mA cm<tspan font-size="25.0" dy="-11.9">-2</tspan></text></g>
</svg>
</body></html>
